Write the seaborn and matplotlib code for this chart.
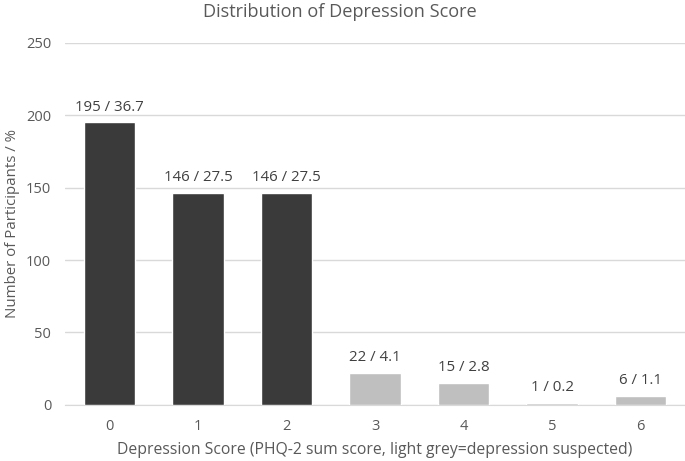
import pandas as pd
import seaborn as sns
import matplotlib.pyplot as plt

scores = ['0', '1', '2', '3', '4', '5', '6']
counts = [195, 146, 146, 22, 15, 1, 6]
percents = [36.7, 27.5, 27.5, 4.1, 2.8, 0.2, 1.1]
suspected = [False, False, False, True, True, True, True]

df = pd.DataFrame({'score': scores, 'count': counts, 'pct': percents,
                   'group': ['suspected' if s else 'normal' for s in suspected]})

sns.set_style('white')
plt.rcParams['font.family'] = ['Open Sans', 'DejaVu Sans']
txt = '#595959'

fig, ax = plt.subplots(figsize=(6.85, 4.61), dpi=100)
fig.subplots_adjust(left=0.095, right=1.0, top=0.907, bottom=0.122)

sns.barplot(data=df, x='score', y='count', hue='group', dodge=False,
            palette={'normal': '#3a3a3a', 'suspected': '#bfbfbf'},
            width=0.58, legend=False, ax=ax, zorder=3)

for i, (c, p) in enumerate(zip(counts, percents)):
    ax.text(i, c + 5.5, f'{c} / {p}', ha='center', va='bottom',
            fontsize=10.8, color='#404040')

ax.set_ylim(0, 250)
ax.set_xlim(-0.5, 6.5)
ax.set_yticks(range(0, 251, 50))
ax.yaxis.grid(True, color='#d9d9d9', linewidth=1, zorder=0)
for s in ['top', 'right', 'left']:
    ax.spines[s].set_visible(False)
ax.spines['bottom'].set_color('#d9d9d9')
ax.tick_params(axis='both', length=0, labelsize=10.5, colors=txt, pad=10)

# Excel centres the title on the chart area, not on the plot area
fig.text(0.496, 0.975, 'Distribution of Depression Score', ha='center', va='center',
         fontsize=13.1, color=txt)
ax.set_xlabel('Depression Score (PHQ-2 sum score, light grey=depression suspected)',
              fontsize=11.3, color=txt, labelpad=6)
ax.set_ylabel('Number of Participants / %', fontsize=10.8, color=txt, va='center')
ax.yaxis.set_label_coords(-0.085, 0.5)

fig.savefig('out.png', dpi=100)
